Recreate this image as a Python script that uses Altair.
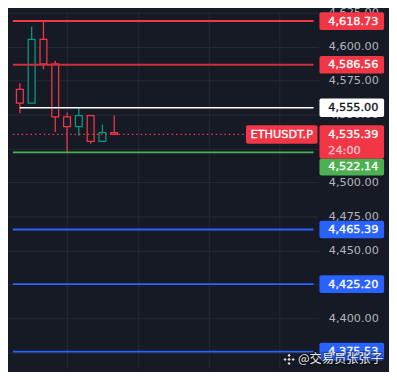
import altair as alt
import pandas as pd

# ---------------- data ----------------
bar_index = [0, 1, 2, 3, 4, 5, 6, 7, 8]
opens  = [4568.4, 4558.4, 4605.2, 4587.2, 4548.3, 4541.1, 4549.2, 4530.3, 4536.7]
closes = [4558.4, 4605.2, 4587.2, 4548.3, 4541.1, 4549.2, 4530.3, 4536.7, 4535.39]
highs  = [4573.0, 4614.8, 4618.7, 4589.6, 4551.4, 4555.0, 4549.2, 4542.7, 4549.2]
lows   = [4550.9, 4558.4, 4583.3, 4537.2, 4522.3, 4534.3, 4528.5, 4530.3, 4535.39]

tick_values = [4375, 4400, 4425, 4450, 4475, 4500, 4525, 4550, 4575, 4600, 4625]
vgrid_bars = [4, 10, 16, 22]

resist_levels = [4618.73, 4586.56]
white_level = 4555.00
white_start_bar = 0
current_price = 4535.39
countdown = "24:00"
symbol = "ETHUSDT.P"
green_level = 4522.14
support_levels = [4465.39, 4425.20, 4375.53]
watermark = "@交易员张张子"

# ---------------- style ----------------
BG = "#161a25"
GRID = "#262a35"
RED = "#f23645"
RED2 = "#cc2f3d"
TEAL = "#089981"
GREEN = "#4caf50"
BLUE = "#2962ff"
FONT = "DejaVu Sans"
FS = 11.5

W, H = 317, 364
X_DOM = [-0.59, 24.9]
Y_DOM = [4363.3, 4625.6]
xs = alt.Scale(domain=X_DOM, nice=False, zero=False)
ys = alt.Scale(domain=Y_DOM, nice=False, zero=False)

candles = pd.DataFrame({
    "i": bar_index, "open": opens, "close": closes, "high": highs, "low": lows,
})
candles["dir"] = ["up" if c >= o else "down" for o, c in zip(opens, closes)]
dir_scale = alt.Scale(domain=["up", "down"], range=[TEAL, RED])

x_axis = alt.Axis(values=vgrid_bars, labels=False, ticks=False, domain=False, grid=True,
                  gridColor=GRID, gridWidth=1, title=None)
y_axis = alt.Axis(orient="right", values=tick_values, format=",.2f", ticks=False, domain=False,
                  grid=True, gridColor=GRID, gridWidth=1, labelColor="#b2b5be", labelFont=FONT,
                  labelFontSize=FS, labelPadding=10, title=None)

def X(field):
    return alt.X(field, scale=xs, axis=x_axis)

def Y(field):
    return alt.Y(field, scale=ys, axis=y_axis)

wicks = alt.Chart(candles).mark_rule(strokeWidth=1.3).encode(
    x=X("i:Q"), y=Y("low:Q"), y2="high:Q",
    color=alt.Color("dir:N", scale=dir_scale, legend=None),
)
bodies = alt.Chart(candles).mark_bar(width=7, fill=BG, strokeWidth=1.3).encode(
    x=X("i:Q"), y=Y("open:Q"), y2="close:Q",
    stroke=alt.Stroke("dir:N", scale=dir_scale, legend=None),
)

def hline(level, color, width, start=None, dash=None):
    df = pd.DataFrame({"level": [level], "s": [X_DOM[0] if start is None else start], "e": [X_DOM[1]]})
    kw = dict(color=color, strokeWidth=width)
    if dash:
        kw["strokeDash"] = dash
    return alt.Chart(df).mark_rule(**kw).encode(x=X("s:Q"), x2="e:Q", y=Y("level:Q"))

lines = [
    hline(resist_levels[0], RED, 2),
    hline(resist_levels[1], RED2, 2),
    hline(white_level, "#ffffff", 1.6, start=white_start_bar),
    hline(current_price, RED, 1.3, dash=[1.5, 3]),
    hline(green_level, GREEN, 2),
] + [hline(v, BLUE, 2) for v in support_levels]

def tag(level, fill, text, text_color, top=-9, bottom=9, text_dy=0.5, x0=318, x1=384, tx=None,
        align="left", extra=None):
    df = pd.DataFrame({"level": [level], "t": [text]})
    rect = alt.Chart(df).mark_rect(color=fill, yOffset=top, y2Offset=bottom, cornerRadius=2).encode(
        x=alt.value(x0), x2=alt.value(x1), y=Y("level:Q"), y2="level:Q",
    )
    txt = alt.Chart(df).mark_text(color=text_color, font=FONT, fontSize=FS, stroke=text_color,
                                  strokeWidth=0.35, align=align, baseline="middle",
                                  yOffset=text_dy).encode(
        x=alt.value(tx if tx is not None else x0 + 9), y=Y("level:Q"), text="t:N",
    )
    layers = [rect, txt]
    if extra:
        e_text, e_color, e_dy = extra
        df2 = pd.DataFrame({"level": [level], "t": [e_text]})
        layers.append(alt.Chart(df2).mark_text(color=e_color, font=FONT, fontSize=FS, stroke=e_color,
                                               strokeWidth=0.35, align="left", baseline="middle",
                                               yOffset=e_dy).encode(
            x=alt.value(x0 + 9), y=Y("level:Q"), text="t:N"))
    return layers

fmt = lambda v: f"{v:,.2f}"
tags = []
tags += tag(resist_levels[0], RED, fmt(resist_levels[0]), "#ffffff")
tags += tag(resist_levels[1], RED, fmt(resist_levels[1]), "#ffffff")
tags += tag(white_level, "#ffffff", fmt(white_level), "#131722", top=-9.5, bottom=9.5)
tags += tag(current_price, RED, fmt(current_price), "#ffffff", top=-9.2, bottom=24.8,
            extra=(countdown, "#fbc1c6", 17.5))
tags += tag(current_price, RED, symbol, "#ffffff", top=-9.2, bottom=9.5, x0=243, x1=316,
            tx=279.5, align="center")
tags += tag(green_level, GREEN, fmt(green_level), "#ffffff", top=6.5, bottom=23.5, text_dy=15)
for v in support_levels:
    tags += tag(v, BLUE, fmt(v), "#ffffff")

wm_df = pd.DataFrame({"t": [watermark]})
logo_path = ("M0,-1L0.28,-0.72L0,-0.44L-0.28,-0.72Z M0,1L0.28,0.72L0,0.44L-0.28,0.72Z "
             "M-1,0L-0.72,0.28L-0.44,0L-0.72,-0.28Z M1,0L0.72,0.28L0.44,0L0.72,-0.28Z "
             "M0,-0.3L0.3,0L0,0.3L-0.3,0Z")
logo = alt.Chart(wm_df).mark_point(shape=logo_path, filled=True, color="#e8e8e8", size=130,
                                   opacity=0.95).encode(x=alt.value(287), y=alt.value(355))
wm_shadow = alt.Chart(wm_df).mark_text(font="Noto Sans CJK SC", fontSize=12.5, align="left",
                                       baseline="middle", color="#000000", stroke="#000000",
                                       strokeWidth=2.5, opacity=0.35).encode(
    x=alt.value(296), y=alt.value(355), text="t:N")
wm_text = alt.Chart(wm_df).mark_text(font="Noto Sans CJK SC", fontSize=12.5, align="left",
                                     baseline="middle", color="#ececec").encode(
    x=alt.value(296), y=alt.value(355), text="t:N")

chart = alt.layer(wicks, bodies, *lines, *tags, logo, wm_shadow, wm_text).properties(
    width=W, height=H,
    autosize=alt.AutoSizeParams(type="none"),
    padding={"left": 0, "top": 0, "right": 72, "bottom": 0},
    background=BG,
).configure_view(stroke=None)

chart.save("out.html", embed_options={"renderer": "svg", "actions": False})
